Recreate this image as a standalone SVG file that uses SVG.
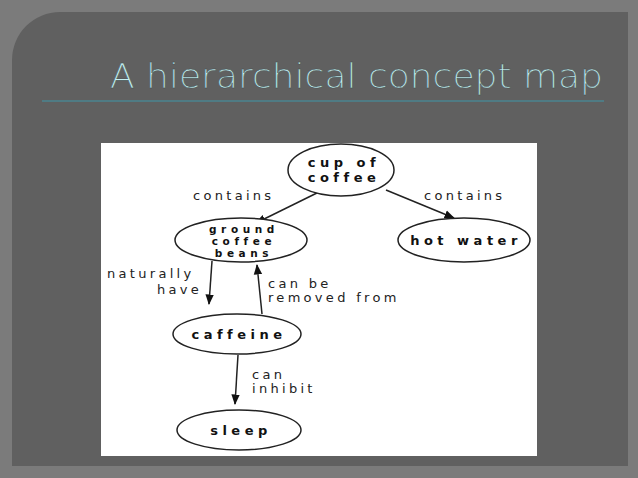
<svg xmlns="http://www.w3.org/2000/svg" width="638" height="478" viewBox="0 0 638 478">
<defs>
<marker id="ah" viewBox="0 0 10 10" refX="9" refY="5" markerWidth="7" markerHeight="7" orient="auto"><path d="M0,1 L10,5 L0,9 z" fill="#111"/></marker>
</defs>
<style>
.n ellipse{fill:#fff;stroke:#222;stroke-width:1.5}
.n text{font-family:"DejaVu Sans",sans-serif;font-weight:bold;font-size:13px;letter-spacing:4.5px;text-anchor:middle;fill:#111}
.n text.s{font-size:10.5px;letter-spacing:4.6px}
.l{font-family:"DejaVu Sans",sans-serif;font-size:13px;letter-spacing:3.3px;fill:#222}
#edges line{stroke:#222;stroke-width:1.5;marker-end:url(#ah)}
</style>
<rect width="638" height="478" fill="#7b7b7b"/>
<path d="M60,12 H628 V466 H12 V60 A48,48 0 0 1 60,12 z" fill="#606060"/>
<text x="110" y="88" font-family="DejaVu Sans, sans-serif" font-size="33" font-weight="300" fill="#c4f0f2" stroke="#3c4a4c" stroke-width="0.4" textLength="493" lengthAdjust="spacingAndGlyphs">A hierarchical concept map</text>
<line x1="42" y1="101" x2="604" y2="101" stroke="#3f95a8" stroke-width="1.2"/>
<rect x="101" y="143" width="436" height="313" fill="#fff"/>
<g id="edges">
<line x1="323" y1="190" x2="256" y2="223"/>
<line x1="386" y1="190" x2="454" y2="218"/>
<line x1="212" y1="261" x2="209" y2="304"/>
<line x1="262" y1="314" x2="257" y2="265"/>
<line x1="238" y1="355" x2="235" y2="404"/>
</g>
<g id="labels">
<text class="l" x="193" y="200">contains</text>
<text class="l" x="424" y="200">contains</text>
<text class="l" x="107" y="278">naturally</text>
<text class="l" x="202" y="294" text-anchor="end">have</text>
<text class="l" x="268" y="288">can be</text>
<text class="l" x="268" y="302">removed from</text>
<text class="l" x="252" y="379">can</text>
<text class="l" x="252" y="393">inhibit</text>
</g>
<g id="cup" class="n"><ellipse cx="341" cy="170" rx="53" ry="26"/><text x="344" y="167">cup of</text><text x="344" y="182">coffee</text></g>
<g id="beans" class="n"><ellipse cx="241" cy="240" rx="66" ry="22"/><text class="s" x="244" y="233">ground</text><text class="s" x="244" y="245">coffee</text><text class="s" x="244" y="257">beans</text></g>
<g id="water" class="n"><ellipse cx="464" cy="240" rx="66" ry="22"/><text x="466" y="245">hot water</text></g>
<g id="caffeine" class="n"><ellipse cx="237" cy="334" rx="64" ry="20"/><text x="239" y="339">caffeine</text></g>
<g id="sleep" class="n"><ellipse cx="239" cy="430" rx="62" ry="20"/><text x="241" y="435">sleep</text></g>
</svg>
